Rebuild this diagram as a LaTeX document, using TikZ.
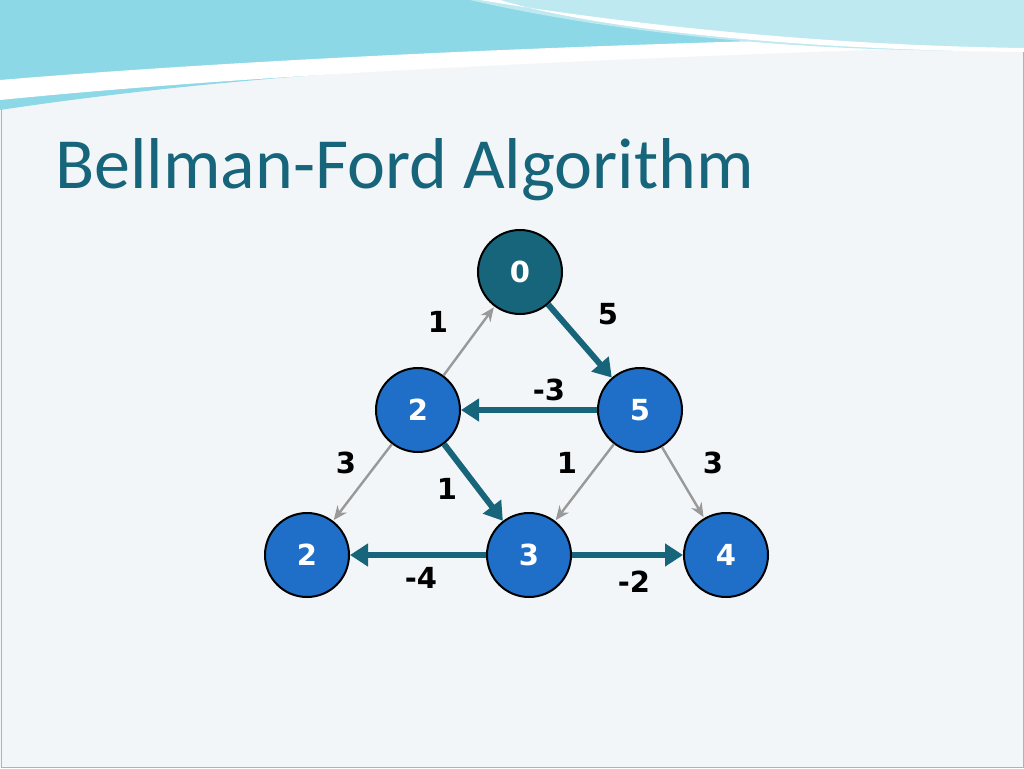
\documentclass[tikz,border=0pt]{standalone}
\usepackage{fontspec}
\setmainfont{Carlito}
\newfontfamily\lab{DejaVu Sans}
\usetikzlibrary{arrows.meta}
\definecolor{teal1}{HTML}{17657A}
\definecolor{blue1}{HTML}{1F6FC8}
\definecolor{bg}{HTML}{F3F6F8}
\definecolor{wave}{HTML}{5CC8DC}
\begin{document}
\begin{tikzpicture}[x=1pt,y=-1pt,
  vtx/.style={circle,draw=black,line width=2pt,fill=blue1,minimum size=84pt,inner sep=0pt,text=white,font=\lab\bfseries\fontsize{29}{29}\selectfont},
  thin/.style={draw=gray!80,line width=2.4pt,-{Stealth[length=14pt,width=12pt]},shorten >=1pt},
  thick/.style={draw=teal1,line width=6pt,-{Triangle[length=18pt,width=22pt]}},
  wl/.style={font=\lab\bfseries\fontsize{29}{29}\selectfont,text=black}]
\useasboundingbox (0,0) rectangle (1024,768);
\fill[bg] (0,0) rectangle (1024,768);
\draw[gray!60,line width=1pt] (1,1) rectangle (1023,767);
% top waves
\fill[wave!70] (0,0) -- (1024,0) -- (1024,40) .. controls (800,60) and (400,50) .. (0,110) -- cycle;
\fill[white] (0,80) .. controls (300,55) and (700,40) .. (1024,35) -- (1024,45) .. controls (700,55) and (300,70) .. (0,100) -- cycle;
\fill[wave!40] (470,0) .. controls (600,30) and (800,55) .. (1024,50) -- (1024,0) -- cycle;
\fill[white] (480,0) .. controls (600,20) and (800,45) .. (1024,48) -- (1024,52) .. controls (800,50) and (600,30) .. (500,0) -- cycle;
\node[anchor=base west,text=teal1,font=\fontsize{72}{72}\selectfont,inner sep=0pt] (title) at (55,188) {Bellman-Ford Algorithm};
\node[vtx,fill=teal1] (n0) at (520,272) {0};
\node[vtx] (a) at (418,410) {2};
\node[vtx] (f) at (640,410) {5};
\node[vtx] (b) at (307,555) {2};
\node[vtx] (c) at (529,555) {3};
\node[vtx] (d) at (726,555) {4};
\draw[thin] (a) -- (n0);
\draw[thin] (a) -- (b);
\draw[thin] (f) -- (c);
\draw[thin] (f) -- (d);
\draw[thick] (n0) -- (f);
\draw[thick] (f) -- (a);
\draw[thick] (a) -- (c);
\draw[thick] (c) -- (b);
\draw[thick] (c) -- (d);
\node[wl] (l1) at (438,322) {1};
\node[wl] (l2) at (608,314) {5};
\node[wl] (l3) at (549,390) {-3};
\node[wl] (l4) at (346,463) {3};
\node[wl] (l5) at (567,463) {1};
\node[wl] (l6) at (713,463) {3};
\node[wl] (l7) at (447,489) {1};
\node[wl] (l8) at (421,578) {-4};
\node[wl] (l9) at (634,582) {-2};
\end{tikzpicture}
\end{document}
